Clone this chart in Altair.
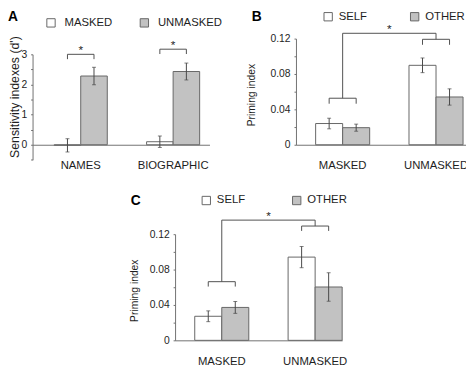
import altair as alt
import pandas as pd

# ---------------- data ----------------
# Panel A
a_cats = ["NAMES", "BIOGRAPHIC"]
a_conds = ["MASKED", "UNMASKED"]
a_masked = [-0.02, 0.10]
a_masked_err = [0.22, 0.19]
a_unmasked = [2.28, 2.43]
a_unmasked_err = [0.29, 0.28]
a_bracket = [3.0, 3.17]
a_tip = 0.16

# Panel B
b_cats = ["MASKED", "UNMASKED"]
b_conds = ["SELF", "OTHER"]
b_self = [0.024, 0.0898]
b_self_err = [0.006, 0.0083]
b_other = [0.0193, 0.0540]
b_other_err = [0.004, 0.0092]
b_bracket = [0.0526, 0.1192]
b_top = 0.126
b_tip = 0.0062

# Panel C
c_cats = ["MASKED", "UNMASKED"]
c_conds = ["SELF", "OTHER"]
c_self = [0.0272, 0.0941]
c_self_err = [0.0061, 0.012]
c_other = [0.0372, 0.0603]
c_other_err = [0.0067, 0.0161]
c_bracket = [0.0663, 0.1292]
c_top = 0.1359
c_tip = 0.0055

a_ticks = [-0.5, 0, 0.5, 1, 1.5, 2, 2.5, 3]
bc_ticks = [0, 0.02, 0.04, 0.06, 0.08, 0.10, 0.12]

# ---------------- style ----------------
FONT = "Liberation Sans"
AXC = "#707070"
TXT = "#1e1e1e"
STROKE = "#666666"
ERRC = "#474747"
BRC = "#505050"
GRAY = "#c2c2c2"
W, H = 466, 359


def build_panel(cats, conds, vals, errs, brackets, tip, top, stars_each,
                xrange, pi, po, al, ydom, yrange, yvals, ylabel_expr,
                ytitle, ytitle_x, ytitle_y, ytitle_size, yoff, xoff, xlabpad,
                leg):
    rows = []
    for ci, c in enumerate(cats):
        for k, cond in enumerate(conds):
            v = vals[k][ci]
            e = errs[k][ci]
            rows.append(dict(cat=c, cond=cond, value=v, lo=v - e, hi=v + e))
    bars = pd.DataFrame(rows)

    xs = alt.Scale(domain=cats, range=xrange, paddingInner=pi,
                   paddingOuter=po, align=al)
    xa = alt.Axis(orient="bottom", offset=xoff, domain=True, domainColor=AXC,
                  domainWidth=1, ticks=False, tickSize=0, labelPadding=xlabpad,
                  labelFont=FONT, labelFontSize=11.5, labelColor=TXT,
                  labelAngle=0, title=None, grid=False)
    ys = alt.Scale(domain=ydom, range=yrange, nice=False, zero=False)
    ya = alt.Axis(orient="left", offset=yoff, values=yvals,
                  labelExpr=ylabel_expr, labelOverlap=False, tickSize=2,
                  tickColor=AXC, domainColor=AXC, labelPadding=4,
                  labelFont=FONT, labelFontSize=10.5, labelColor=TXT,
                  grid=False, title=ytitle, titleX=ytitle_x, titleY=ytitle_y,
                  titleAngle=270, titleAlign="center", titleBaseline="middle",
                  titleFont=FONT, titleFontSize=ytitle_size,
                  titleFontWeight="normal", titleColor=TXT)
    xo = alt.XOffset("cond:N", scale=alt.Scale(domain=conds))

    def X(field="cat", **kw):
        return alt.X(f"{field}:N", scale=xs, axis=xa, **kw)

    def Y(field):
        return alt.Y(f"{field}:Q", scale=ys, axis=ya)

    fill = alt.Fill("cond:N", scale=alt.Scale(domain=conds, range=["#ffffff", GRAY]),
                    legend=alt.Legend(**leg))

    layers = []
    layers.append(alt.Chart(bars).mark_bar(stroke=STROKE, strokeWidth=1, fillOpacity=1)
                  .encode(x=X(), xOffset=xo, y=Y("value"), y2=alt.datum(0), fill=fill))
    layers.append(alt.Chart(bars).mark_rule(color=ERRC, strokeWidth=1)
                  .encode(x=X(), xOffset=xo, y=Y("lo"), y2="hi"))
    for f in ["lo", "hi"]:
        layers.append(alt.Chart(bars).mark_tick(color=ERRC, thickness=1, size=4,
                                                orient="horizontal")
                      .encode(x=X(), xOffset=xo, y=Y(f)))

    pairs = pd.DataFrame(dict(cat=cats, level=brackets))
    layers.append(alt.Chart(pairs).mark_rule(color=BRC, strokeWidth=1)
                  .encode(x=X(bandPosition=0.25), x2=alt.X2("cat", bandPosition=0.75),
                          y=Y("level")))
    trow = []
    for ci, c in enumerate(cats):
        for cond in conds:
            trow.append(dict(cat=c, cond=cond, level=brackets[ci],
                             low=brackets[ci] - tip))
    tips = pd.DataFrame(trow)
    layers.append(alt.Chart(tips).mark_rule(color=BRC, strokeWidth=1)
                  .encode(x=X(), xOffset=xo, y=Y("low"), y2="level"))

    if stars_each:
        st = pd.DataFrame(dict(cat=cats, y=brackets, s=["*"] * len(cats)))
        layers.append(alt.Chart(st).mark_text(font=FONT, fontSize=12, color=TXT,
                                               baseline="alphabetic")
                      .encode(x=X(), y=Y("y"), text="s:N"))
    else:
        vc = pd.DataFrame(dict(cat=cats, y1=brackets, y2=[top] * len(cats)))
        layers.append(alt.Chart(vc).mark_rule(color=BRC, strokeWidth=1)
                      .encode(x=X(), y=Y("y1"), y2="y2"))
        hc = pd.DataFrame(dict(cat=[cats[0]], cat_to=[cats[1]], y=[top]))
        layers.append(alt.Chart(hc).mark_rule(color=BRC, strokeWidth=1)
                      .encode(x=X(), x2=alt.X2("cat_to"), y=Y("y")))
        st = pd.DataFrame(dict(cat=[cats[0]], y=[top], s=["*"]))
        layers.append(alt.Chart(st).mark_text(font=FONT, fontSize=12, color=TXT,
                                               baseline="alphabetic", dx=20)
                      .encode(x=X(bandPosition=1), y=Y("y"), text="s:N"))
    return alt.layer(*layers)


def legend_props(title, lx, ly, tpad, tbase, tanchor, loff, cpad):
    return dict(orient="none", legendX=lx, legendY=ly, direction="horizontal",
                title=title, titleOrient="left", titleFont=FONT, titleFontSize=14,
                titleFontWeight="bold", titleColor="#000000", titlePadding=tpad,
                titleBaseline=tbase, titleAnchor=tanchor, labelFont=FONT,
                labelFontSize=11.5, labelColor=TXT, labelOffset=loff,
                columnPadding=cpad, symbolType="square", symbolSize=72,
                symbolStrokeColor=STROKE, symbolStrokeWidth=1, padding=0)


panel_a = build_panel(
    a_cats, a_conds, [a_masked, a_unmasked], [a_masked_err, a_unmasked_err],
    a_bracket, a_tip, None, True,
    [25, 205], 40 / 94, 16 / 94, 0.6875,
    [-0.5, 3], [151.33, 44], a_ticks,
    "datum.value >= 0 && datum.value % 1 == 0 ? format(datum.value, 'd') : ''",
    "Sensitivity indexes (d')", -18, 87, 12.5, -25, -223, 15,
    legend_props("A", 0, 6.25, 27, "middle", "start", 8, 25))

bc_expr = ("datum.value < 0.001 ? '0' : (round(datum.value * 100) % 4 == 0 ? "
           "format(datum.value, '.2f') : '')")

panel_b = build_panel(
    b_cats, b_conds, [b_self, b_other], [b_self_err, b_other_err],
    b_bracket, b_tip, b_top, False,
    [293, 466], 40 / 95, 0.121053, 0.8696,
    [0, 0.12], [136, 28], bc_ticks, bc_expr,
    "Priming index", -45, 85, 10.5, -293, -223, 15,
    legend_props("B", 248, 0, 61, "middle", "middle", 5, 41))

panel_c = build_panel(
    c_cats, c_conds, [c_self, c_other], [c_self_err, c_other_err],
    c_bracket, c_tip, c_top, False,
    [170, 340], 40 / 95, 0.105263, 1.0,
    [0, 0.12], [335, 227], bc_ticks, bc_expr,
    "Priming index", -41, 284, 10.5, -170, -24, 15.5,
    legend_props("C", 125, 187, 60, "middle", "middle", 5, 45))

chart = (
    alt.layer(panel_a, panel_b, panel_c)
    .resolve_scale(x="independent", y="independent", xOffset="independent",
                   fill="independent")
    .resolve_axis(x="independent", y="independent")
    .resolve_legend(fill="independent")
    .properties(width=W, height=H, padding=0,
                autosize=alt.AutoSizeParams(type="none"))
    .configure_view(stroke=None)
)

chart.save("out.html", embed_options={"renderer": "svg", "actions": False})
